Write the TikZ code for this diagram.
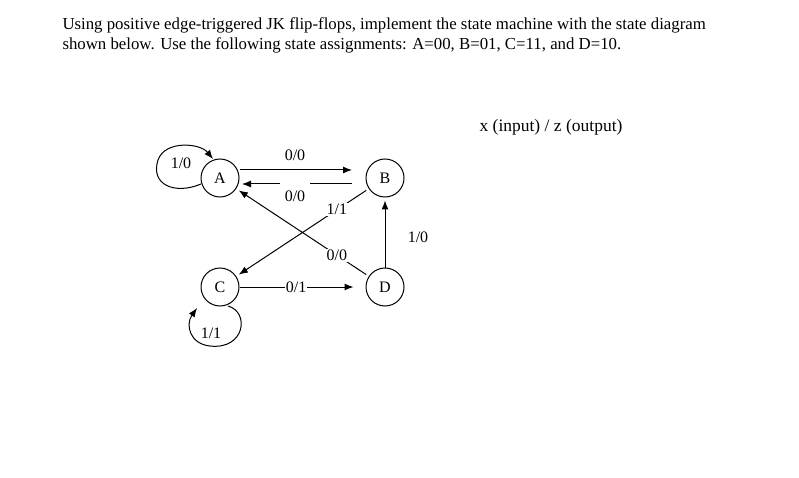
\documentclass[tikz,border=0pt]{standalone}
\usepackage{fontspec}
\setmainfont{Liberation Serif}
\usetikzlibrary{arrows.meta}
\begin{document}
\begin{tikzpicture}[x=1pt,y=-1pt,>={Latex[length=9pt,width=7pt]},line width=1pt,
  st/.style={circle,draw,minimum size=38pt,inner sep=0pt,font=\fontsize{16}{18}\selectfont},
  lbl/.style={font=\fontsize{16}{18}\selectfont,inner sep=1pt},
  wl/.style={lbl,fill=white},
  txt/.style={font=\fontsize{16.8}{20}\selectfont,anchor=west,inner sep=0pt}]
\useasboundingbox (0,0) rectangle (799,478);
\node[txt] (t1) at (62,25) {Using positive edge-triggered JK flip-flops, implement the state machine with the state diagram};
\node[txt] (t2) at (62,45) {shown below. Use the following state assignments: A=00, B=01, C=11, and D=10.};
\node[lbl,font=\fontsize{17.5}{20}\selectfont] (leg) at (551,127) {x (input) / z (output)};
\node[st] (A) at (220,178) {A};
\node[st] (B) at (385,178) {B};
\node[st] (C) at (220,287) {C};
\node[st] (D) at (385,287) {D};
\coordinate (ab1) at (240,170); \coordinate (ab2) at (352,170);
\draw[->] (ab1) -- (ab2);
\node[lbl] (l1) at (295,155) {0/0};
\coordinate (ba1) at (352,184); \coordinate (ba2) at (242,184);
\draw[->] (ba1) -- (ba2);
\node[lbl,fill=white,minimum width=30pt,minimum height=4pt,inner sep=0pt] (gap) at (295,184) {};
\node[lbl] (l2) at (295,196) {0/0};
\draw[->,shorten >=3pt,shorten <=3pt] (B) -- (C) node[wl,pos=0.24] (l3) {1/1};
\draw[->,shorten >=3pt,shorten <=3pt] (D) -- (A) node[wl,pos=0.24] (l4) {0/0};
\draw[->,shorten >=3pt] (D) -- (B);
\node[lbl] (l5) at (418,237) {1/0};
\draw[->,shorten >=12pt] (C) -- (D) node[wl,pos=0.45] (l6) {0/1};
\coordinate (a1) at (201,184);
\draw[->] (a1) .. controls (175,195) and (150,185) .. (158,160) .. controls (165,140) and (200,143) .. (213,159);
\node[lbl] (l7) at (181,163) {1/0};
\coordinate (c1) at (228,306);
\draw[->] (c1) .. controls (250,312) and (245,350) .. (210,346) .. controls (190,344) and (185,325) .. (197,308);
\node[lbl] (l8) at (211,333) {1/1};
\end{tikzpicture}
\end{document}
